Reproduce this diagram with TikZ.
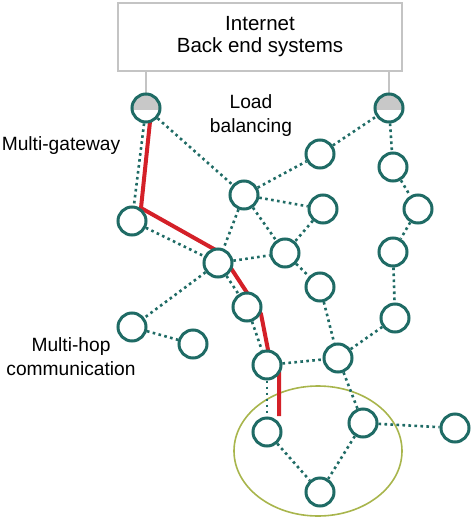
\documentclass[tikz,border=0pt]{standalone}
\usepackage{fontspec}
\setmainfont{Liberation Sans}
\usetikzlibrary{backgrounds}
\definecolor{tealnode}{HTML}{1F6B65}
\definecolor{redpath}{HTML}{D42028}
\definecolor{olivering}{HTML}{A8B54C}
\definecolor{boxgray}{HTML}{C4C4C4}
\definecolor{gwgray}{HTML}{C8C8C8}
\begin{document}
\begin{tikzpicture}[x=1pt,y=-1pt,
  nd/.style={circle,draw=tealnode,line width=3pt,fill=white,minimum size=28pt,inner sep=0pt},
  gw/.style={nd,path picture={\fill[gwgray] ([yshift=-2pt]path picture bounding box.west) rectangle ([shift={(-1pt,-1pt)}]path picture bounding box.north east);}},
  lk/.style={draw=tealnode,line width=2.6pt,dash pattern=on 2.6pt off 3.4pt},
  redp/.style={draw=redpath,line width=4pt,line join=round},
  gline/.style={draw=boxgray,line width=1.3pt},
  lbl/.style={font=\fontsize{19.2}{24}\selectfont,align=center,inner sep=0pt},
  boxtxt/.style={font=\fontsize{20.5}{22}\selectfont,align=center}
]
\useasboundingbox (0,0) rectangle (474,520);
% box
\node[draw=boxgray,line width=1.3pt,minimum width=284pt,minimum height=68pt,boxtxt] (box) at (260,37) {Internet\\Back end systems};
% labels
\node[lbl] (lb) at (251,116) {Load\\balancing};
\node[lbl] (mg) at (61,146) {Multi-gateway};
\node[lbl] (mh) at (71,357) {Multi-hop\\communication};
% nodes
\path
  (146,108) node[gw] (G1) {}
  (389,108) node[gw] (G2) {}
  (132,221) node[nd] (A) {}
  (244,195) node[nd] (B) {}
  (218,263) node[nd] (C) {}
  (285,253) node[nd] (D) {}
  (320,154) node[nd] (E) {}
  (323,209) node[nd] (F) {}
  (320,287) node[nd] (H) {}
  (247,307) node[nd] (I) {}
  (267,365) node[nd] (K) {}
  (338,358) node[nd] (J) {}
  (132,327) node[nd] (L1) {}
  (193,344) node[nd] (L2) {}
  (267,432) node[nd] (M) {}
  (363,423) node[nd] (N) {}
  (455,428) node[nd] (O) {}
  (320,492) node[nd] (P) {}
  (393,167) node[nd] (R1) {}
  (418,209) node[nd] (R2) {}
  (393,252) node[nd] (R3) {}
  (395,318) node[nd] (R4) {};
% red path waypoints
\coordinate (r0) at (151,112);
\coordinate (r1) at (141,208);
\coordinate (r2) at (221,253);
\coordinate (r3) at (261,314);
\coordinate (r4) at (270,360);
\coordinate (r5) at (279,372);
\coordinate (r6) at (279,416);
\begin{scope}[on background layer]
  % ellipse
  \draw[olivering,line width=1.6pt] (318,451) ellipse [x radius=84, y radius=65];
  % gateway lines
  \draw[gline] (G1.north) -- (G1.north |- box.south);
  \draw[gline] (G2.north) -- (G2.north |- box.south);
  % links
  \foreach \a/\b in {G1/A,G1/B,A/C,B/E,B/F,B/D,B/C,C/D,F/D,D/H,C/I,C/L1,L1/L2,I/K,K/M,K/J,H/J,J/R4,J/N,N/O,N/P,M/P,E/G2,G2/R1,R1/R2,R2/R3,R3/R4}
    \draw[lk] (\a) -- (\b);
  % red path
  \draw[redp] (r0) -- (r1) -- (r2) -- (r3) -- (r4) -- (r5) -- (r6);
\end{scope}
\end{tikzpicture}
\end{document}
